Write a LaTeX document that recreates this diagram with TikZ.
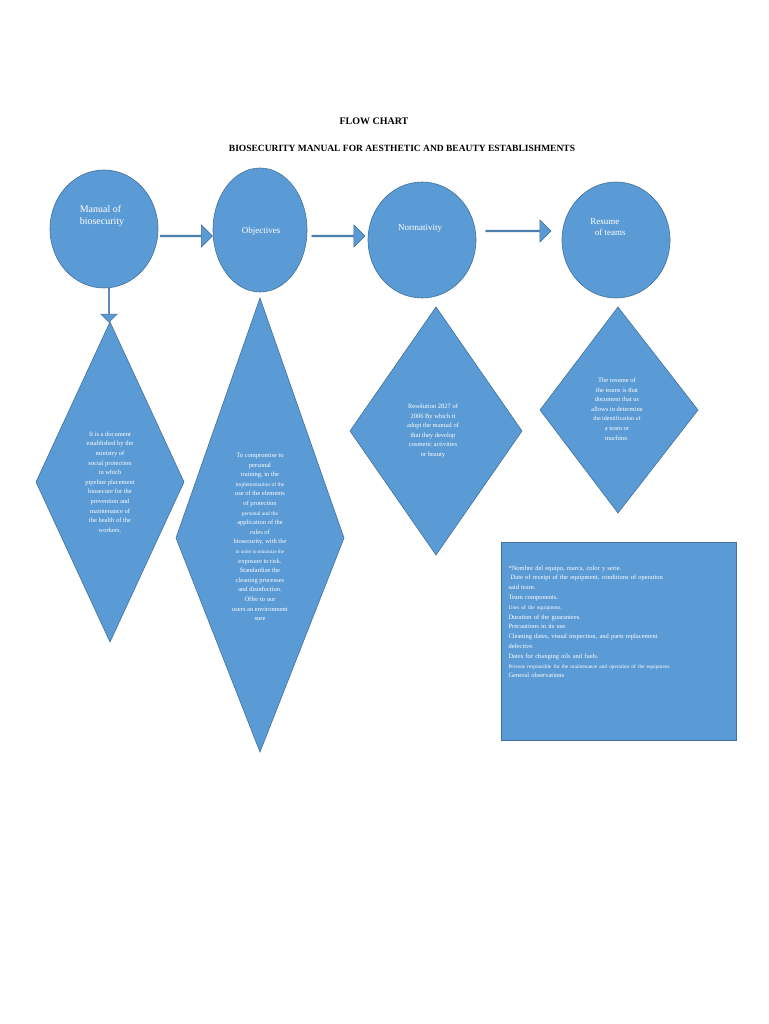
\documentclass[tikz,border=0pt]{standalone}
\usepackage{fontspec}
\setmainfont{Liberation Serif}
\usetikzlibrary{shapes.arrows}
\definecolor{boxblue}{HTML}{5B9BD5}
\definecolor{edgeblue}{HTML}{41719C}
\tikzset{
  blob/.style={fill=boxblue,draw=edgeblue,semithick},
  txt/.style={text=white,align=center,font=\fontsize{6.5}{9.6}\selectfont},
  head/.style={text=white,align=left,font=\fontsize{10}{12}\selectfont},
  blockarrow/.style={single arrow,fill=boxblue,draw=edgeblue,semithick,
    minimum height=#1,minimum width=22pt,single arrow head extend=4pt,
    inner sep=0pt}
}
\begin{document}
\begin{tikzpicture}[x=1pt,y=-1pt]
  \useasboundingbox (0,0) rectangle (768,1024);

  \node[font=\bfseries\fontsize{10}{12}\selectfont] (title) at (374,121) {FLOW CHART};
  \node[font=\bfseries\fontsize{9.5}{12}\selectfont] (subtitle) at (402,148)
    {BIOSECURITY MANUAL FOR AESTHETIC AND BEAUTY ESTABLISHMENTS};

  % circles
  \draw[blob] (104,229) ellipse [x radius=54,y radius=59];
  \draw[blob] (260,230) ellipse [x radius=47,y radius=62];
  \draw[blob] (422,240) ellipse [x radius=54,y radius=58];
  \draw[blob] (616,240) ellipse [x radius=54,y radius=58];
  \node[head] (manual) at (102,216) {Manual of\\biosecurity};
  \node[head,font=\fontsize{9}{11}\selectfont] (objectives) at (261,231) {Objectives};
  \node[head,font=\fontsize{9}{11}\selectfont] (norm) at (420,228) {Normativity};
  \node[head,font=\fontsize{9}{11}\selectfont] (resume) at (608,227) {Resume\\\ \ of teams};

  % block arrows
  \node[blockarrow=52pt] (a1) at (186,236) {};
  \node[blockarrow=53pt] (a2) at (338,236) {};
  \node[blockarrow=65pt] (a3) at (518,231) {};
  \node[blockarrow=34pt,minimum width=16pt,rotate=-90] (a4) at (109,305) {};

  % diamonds
  \draw[blob] (110,322) -- (184,482) -- (110,642) -- (36,482) -- cycle;
  \draw[blob] (260,298) -- (344,538) -- (260,752) -- (176,538) -- cycle;
  \draw[blob] (436,307) -- (522,431) -- (436,555) -- (350,431) -- cycle;
  \draw[blob] (618,307) -- (698,410) -- (618,513) -- (540,410) -- cycle;

  \node[txt] (d1) at (110,482) {It is a document\\established by the\\ministry of\\social protection\\in which\\pipeline placement\\biosecure for the\\prevention and\\maintenance of\\the health of the\\workers.};
  \node[txt] (d2) at (260,537) {To compromise to\\personal\\training, in the\\{\fontsize{5.5}{9.6}\selectfont implementation of the}\\use of the elements\\of protection\\{\fontsize{5.5}{9.6}\selectfont personal and the}\\application of the\\rules of\\biosecurity, with the\\{\fontsize{5}{9.6}\selectfont in order to minimize the}\\exposure to risk.\\Standardize the\\cleaning processes\\and disinfection.\\Offer to our\\users an environment\\sure};
  \node[txt] (d3) at (433,431) {Resolution 2827 of\\2006 By which it\\adopt the manual of\\that they develop\\cosmetic activities\\or beauty};
  \node[txt] (d4) at (617,409) {The resume of\\the teams is that\\document that us\\allows to determine\\{\fontsize{6}{9.6}\selectfont the identification of}\\a team or\\machine.};

  % info box
  \draw[blob] (501,542) rectangle (736,740);
  \node[txt,align=left,anchor=north west,text width=222pt,font=\fontsize{6.5}{9.8}\selectfont] (info) at (505,562)
    {*Nombre del equipo, marca, color y serie.\\
     \ Date of receipt of the equipment, conditions of operation\\
     said team.\\
     Team components.\\
     {\fontsize{5.5}{9.8}\selectfont Uses of the equipment.}\\
     Duration of the guarantees.\\
     Precautions in its use.\\
     Cleaning dates, visual inspection, and parts replacement\\
     defective.\\
     Dates for changing oils and fuels.\\
     {\fontsize{5.3}{9.8}\selectfont Persons responsible for the maintenance and operation of the equipment.}\\
     General observations};
\end{tikzpicture}
\end{document}
